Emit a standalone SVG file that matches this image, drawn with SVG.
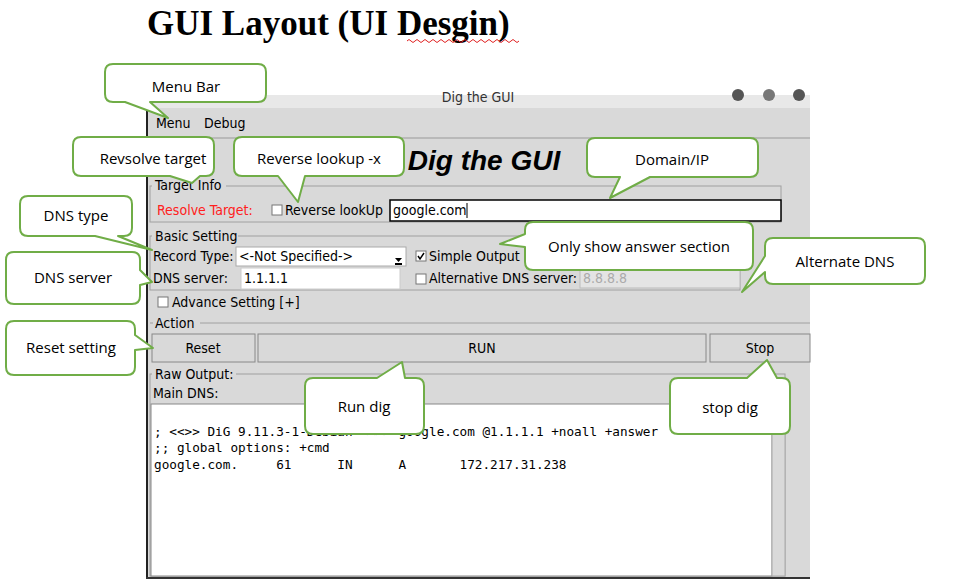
<svg xmlns="http://www.w3.org/2000/svg" width="958" height="585" viewBox="0 0 958 585">
<style>
.co{fill:#fff;stroke:#70ad47;stroke-width:2;stroke-linejoin:round}
.ct{font-family:"Open Sans","Noto Sans",sans-serif;font-size:15px;fill:#000;text-anchor:middle}
.g{font-family:"DejaVu Sans Condensed","DejaVu Sans",sans-serif;font-size:14px;fill:#000}
.m{font-family:"DejaVu Sans Mono",monospace;font-size:12.7px;fill:#000}
.fr{fill:none;stroke:#a0a0a0;stroke-width:1}
.cb{fill:#fff;stroke:#777;stroke-width:1}
.btn{fill:#d9d9d9;stroke:#888;stroke-width:1}
</style>
<rect width="958" height="585" fill="#fff"/>
<text x="147" y="35" font-family="Liberation Serif,serif" font-weight="bold" font-size="35">GUI Layout (UI Desgin)</text>
<path d="M407 41 q2 -3 4 0 t4 0 t4 0 t4 0 t4 0 t4 0 t4 0 t4 0 t4 0 t4 0 t4 0 t4 0 t4 0 t4 0 t4 0 t4 0 t4 0 t4 0 t4 0 t4 0 t4 0 t4 0 t4 0 t4 0 t4 0 t4 0 t4 0 t4 0" fill="none" stroke="#e02020" stroke-width="1"/>
<g id="window">
<rect x="146" y="95" width="664" height="483" fill="#d9d9d9"/>
<rect x="146" y="95" width="664" height="13" fill="#e8e8e8"/>
<text x="478" y="102" text-anchor="middle" class="g" style="fill:#333">Dig the GUI</text>
<circle cx="738" cy="95" r="6" fill="#555"/><circle cx="769" cy="95" r="6" fill="#777"/><circle cx="799" cy="95" r="6" fill="#555"/>
<line x1="147" y1="95" x2="147" y2="578" stroke="#222" stroke-width="2"/>
<line x1="146" y1="578" x2="810" y2="578" stroke="#333" stroke-width="2"/>
<text x="156" y="128" class="g">Menu</text><text x="204" y="128" class="g">Debug</text>
<line x1="148" y1="138" x2="810" y2="138" stroke="#999"/>
<text x="484" y="170" text-anchor="middle" font-family="Liberation Sans,Arial,sans-serif" font-weight="bold" font-style="italic" font-size="28">Dig the GUI</text>
<rect x="150" y="186" width="631" height="36" class="fr"/>
<rect x="152" y="180" width="74" height="12" fill="#d9d9d9"/>
<text x="155" y="190" class="g">Target Info</text>
<text x="157" y="215" class="g" style="fill:#ff2020">Resolve Target:</text>
<rect x="272" y="205" width="10" height="10" class="cb"/>
<text x="285" y="215" class="g">Reverse lookUp</text>
<rect x="390" y="200" width="391" height="21" fill="#fff" stroke="#000" stroke-width="1.5"/>
<text x="393" y="215" class="g">google.com</text>
<line x1="467" y1="203" x2="467" y2="218" stroke="#000"/>
<rect x="150" y="236" width="590" height="54" class="fr"/>
<rect x="152" y="229" width="86" height="12" fill="#d9d9d9"/>
<text x="155" y="241" class="g">Basic Setting</text>
<text x="153" y="261" class="g">Record Type:</text>
<rect x="236" y="247" width="170" height="19" fill="#fff" stroke="#aaa"/>
<text x="239" y="261" class="g">&lt;-Not Specified-&gt;</text>
<path d="M395 258 h7 l-3.5 4z" fill="#000"/><rect x="395" y="263" width="7" height="2" fill="#000"/>
<rect x="416" y="251" width="10" height="10" class="cb"/>
<path d="M418 256 l2 3 l4 -6" fill="none" stroke="#000" stroke-width="1.5"/>
<text x="429" y="261" class="g">Simple Output</text>
<text x="153" y="283" class="g">DNS server:</text>
<rect x="241" y="268" width="159" height="21" fill="#fff" stroke="#ccc"/>
<text x="244" y="283" class="g">1.1.1.1</text>
<rect x="416" y="274" width="10" height="10" class="cb"/>
<text x="429" y="283" class="g">Alternative DNS server:</text>
<rect x="580" y="268" width="160" height="20" fill="#e4e4e4" stroke="#bbb"/>
<text x="583" y="283" class="g" style="fill:#aaa">8.8.8.8</text>
<rect x="158" y="297" width="10" height="10" class="cb"/>
<text x="172" y="307" class="g">Advance Setting [+]</text>
<line x1="200" y1="323" x2="810" y2="323" stroke="#a0a0a0"/>
<line x1="150" y1="323" x2="153" y2="323" stroke="#a0a0a0"/>
<text x="155" y="328" class="g">Action</text>
<rect x="152" y="334" width="103" height="28" class="btn"/>
<text x="203" y="353" class="g" text-anchor="middle">Reset</text>
<rect x="258" y="334" width="448" height="28" class="btn"/>
<text x="482" y="353" class="g" text-anchor="middle">RUN</text>
<rect x="710" y="334" width="100" height="28" class="btn"/>
<text x="760" y="353" class="g" text-anchor="middle">Stop</text>
<rect x="150" y="374" width="635" height="202" class="fr"/>
<rect x="152" y="368" width="84" height="12" fill="#d9d9d9"/>
<text x="155" y="379" class="g">Raw Output:</text>
<text x="153" y="398" class="g">Main DNS:</text>
<rect x="151" y="404" width="621" height="172" fill="#fff" stroke="#888"/>
<rect x="772" y="404" width="13" height="172" fill="#d9d9d9" stroke="#aaa"/>
<text x="154" y="436" class="m">; &lt;&lt;&gt;&gt; DiG 9.11.3-1-Debian &lt;&lt;&gt;&gt; google.com @1.1.1.1 +noall +answer</text>
<text x="154" y="452" class="m">;; global options: +cmd</text>
<text x="154" y="469" class="m" xml:space="preserve">google.com.     61      IN      A       172.217.31.238</text>
</g>
<g id="callouts">
<g id="menubar"><path class="co" d="M113 64 H258 Q266 64 266 72 V94 Q266 102 258 102 H150 L168 118 L125 102 H113 Q105 102 105 94 V72 Q105 64 113 64Z"/><text x="186" y="92" class="ct">Menu Bar</text></g>
<g id="revsolve"><path class="co" d="M81 137 H206 Q214 137 214 145 V168 Q214 176 206 176 H200 L192 183 L170 176 H81 Q73 176 73 168 V145 Q73 137 81 137Z"/><text x="153" y="164" class="ct">Revsolve target</text></g>
<g id="reverse"><path class="co" d="M242 137 H396 Q404 137 404 145 V168 Q404 176 396 176 H305 L298 202 L278 176 H242 Q234 176 234 168 V145 Q234 137 242 137Z"/><text x="319" y="164" class="ct">Reverse lookup -x</text></g>
<g id="domain"><path class="co" d="M595 138 H750 Q758 138 758 146 V169 Q758 177 750 177 H650 L610 198 L620 177 H595 Q587 177 587 169 V146 Q587 138 595 138Z"/><text x="672" y="165" class="ct">Domain/IP</text></g>
<g id="answer"><path class="co" d="M533 222 H745 Q753 222 753 230 V262 Q753 270 745 270 H533 Q525 270 525 262 V247 L500 244 L525 234 V230 Q525 222 533 222Z"/><text x="639" y="252" class="ct">Only show answer section</text></g>
<g id="alternate"><path class="co" d="M773 238 H917 Q925 238 925 246 V276 Q925 284 917 284 H773 Q765 284 765 276 V272 L742 292 L765 256 V246 Q765 238 773 238Z"/><text x="845" y="267" class="ct">Alternate DNS</text></g>
<g id="dnstype"><path class="co" d="M28 196 H124 Q132 196 132 204 V228 Q132 236 124 236 H118 L152 250 L95 236 H28 Q20 236 20 228 V204 Q20 196 28 196Z"/><text x="76" y="221" class="ct">DNS type</text></g>
<g id="dnsserver"><path class="co" d="M14 252 H132 Q140 252 140 260 V270 L152 282 L140 285 V296 Q140 304 132 304 H14 Q6 304 6 296 V260 Q6 252 14 252Z"/><text x="73" y="283" class="ct">DNS server</text></g>
<g id="reset"><path class="co" d="M14 321 H127 Q135 321 135 329 V335 L153 348 L135 350 V367 Q135 375 127 375 H14 Q6 375 6 367 V329 Q6 321 14 321Z"/><text x="71" y="353" class="ct">Reset setting</text></g>
<g id="rundig"><path class="co" d="M313 378 H377 L402 362 L405 378 H416 Q424 378 424 386 V426 Q424 434 416 434 H313 Q305 434 305 426 V386 Q305 378 313 378Z"/><text x="364" y="412" class="ct">Run dig</text></g>
<g id="stopdig"><path class="co" d="M678 378 H747 L767 360 L777 378 H782 Q790 378 790 386 V426 Q790 434 782 434 H678 Q670 434 670 426 V386 Q670 378 678 378Z"/><text x="730" y="413" class="ct">stop dig</text></g>
</g>
</svg>
